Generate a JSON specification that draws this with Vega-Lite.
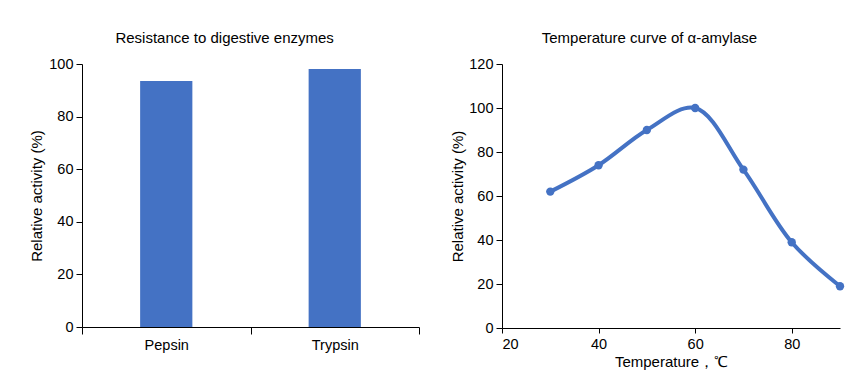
{
  "$schema": "https://vega.github.io/schema/vega-lite/v6.json",
  "padding": {"left": 29, "top": 31, "right": 5, "bottom": 5},
  "spacing": 30,
  "config": {
    "view": {"stroke": null},
    "font": "Liberation Sans",
    "axis": {"grid": false, "domainColor": "#000", "tickColor": "#000", "labelColor": "#000", "titleColor": "#000", "labelFontSize": 14.5, "titleFontSize": 15, "titleFontWeight": "normal", "labelFont": "Liberation Sans", "titleFont": "Liberation Sans", "tickSize": 6},
    "title": {"fontSize": 15, "fontWeight": "normal", "color": "#000", "font": "Liberation Sans", "offset": 10, "frame": "bounds", "anchor": "middle"}
  },
  "hconcat": [
    {
      "title": "Resistance to digestive enzymes",
      "width": 337,
      "height": 263,
      "data": {"values": [{"enzyme": "Pepsin", "activity": 93.5}, {"enzyme": "Trypsin", "activity": 98.1}]},
      "mark": {"type": "bar", "color": "#4472C4", "width": {"band": 0.31}},
      "encoding": {
        "x": {"field": "enzyme", "type": "nominal", "scale": {"paddingInner": 0, "paddingOuter": 0}, "axis": {"title": null, "labelAngle": 0, "tickBand": "extent", "tickSize": 7, "labelPadding": 4}},
        "y": {"field": "activity", "type": "quantitative", "scale": {"domain": [0, 100]}, "axis": {"title": "Relative activity (%)", "values": [0, 20, 40, 60, 80, 100], "labelPadding": 3, "titlePadding": 4}}
      }
    },
    {
      "title": "Temperature curve of α-amylase",
      "width": 338,
      "height": 264,
      "data": {"values": [
        {"temp": 30, "activity": 62},
        {"temp": 40, "activity": 74},
        {"temp": 50, "activity": 90},
        {"temp": 60, "activity": 100},
        {"temp": 70, "activity": 72},
        {"temp": 80, "activity": 39},
        {"temp": 90, "activity": 19}
      ]},
      "mark": {"type": "line", "color": "#4472C4", "strokeWidth": 4, "interpolate": "catmull-rom", "point": {"size": 70, "color": "#4472C4", "filled": true}},
      "encoding": {
        "x": {"field": "temp", "type": "quantitative", "scale": {"domain": [20, 90], "nice": false}, "axis": {"title": "Temperature，℃", "values": [20, 40, 60, 80], "tickSize": 5, "labelPadding": 4, "titlePadding": 4}},
        "y": {"field": "activity", "type": "quantitative", "scale": {"domain": [0, 120]}, "axis": {"title": "Relative activity (%)", "values": [0, 20, 40, 60, 80, 100, 120], "labelPadding": 3, "titlePadding": 3}}
      }
    }
  ]
}
